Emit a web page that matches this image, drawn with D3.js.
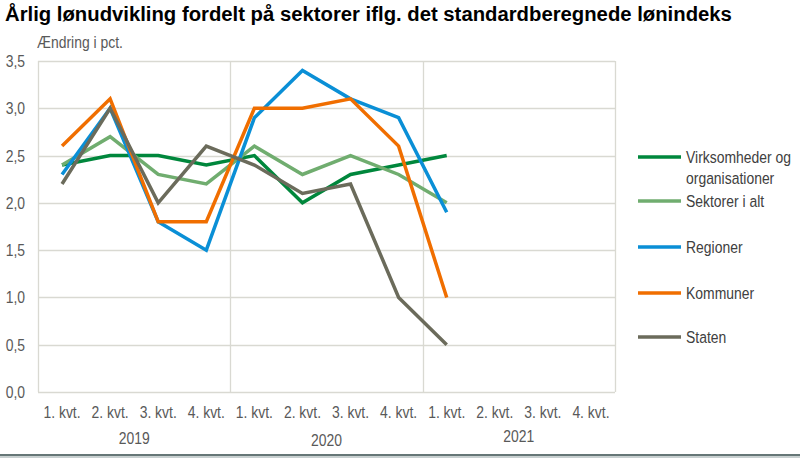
<!DOCTYPE html>
<html><head><meta charset="utf-8">
<script src="https://cdn.jsdelivr.net/npm/d3@7"></script>
<style>body{margin:0;background:#fff}svg{display:block}</style>
</head><body>
<script>
const quarters = ["1. kvt.","2. kvt.","3. kvt.","4. kvt.","1. kvt.","2. kvt.","3. kvt.","4. kvt.","1. kvt.","2. kvt.","3. kvt.","4. kvt."];
const years = ["2019","2020","2021"];
const yTicks = [0,0.5,1,1.5,2,2.5,3,3.5];
const virksomheder = [2.4,2.5,2.5,2.4,2.5,2.0,2.3,2.4,2.5];
const sektorer = [2.4,2.7,2.3,2.2,2.6,2.3,2.5,2.3,2.0];
const regioner = [2.3,3.0,1.8,1.5,2.9,3.4,3.1,2.9,1.9];
const kommuner = [2.6,3.1,1.8,1.8,3.0,3.0,3.1,2.6,1.0];
const staten = [2.2,3.0,2.0,2.6,2.4,2.1,2.2,1.0,0.5];
const seriesNames = [["Virksomheder og","organisationer"],["Sektorer i alt"],["Regioner"],["Kommuner"],["Staten"]];
const seriesData = [virksomheder,sektorer,regioner,kommuner,staten];
const colors = ["#00873c","#70ad6f","#0a8fd6","#f06e00","#6b6b5b"];

(function(){
const W=800,H=458;
const svg=d3.select("body").append("svg").attr("width",W).attr("height",H);
const font="'Liberation Sans',Arial,sans-serif";
const NARROW=0.82;
function ntext(parent,x,y,lines,opts){
  const g=parent.append("g").attr("transform",`translate(${x},${y}) scale(${NARROW},1)`);
  const t=g.append("text").attr("font-family",font).attr("font-size",opts.size||17)
    .attr("fill",opts.fill||"#595959").attr("text-anchor",opts.anchor||"start");
  [].concat(lines).forEach((s,j)=>t.append("tspan").attr("x",0).attr("y",j*(opts.lh||21)).text(s));
  return t;
}
const pL=38,pR=615,pT=61,pB=392;
const x=d3.scaleBand().domain(d3.range(12)).range([pL,pR]);
const y=d3.scaleLinear().domain([0,3.5]).range([pB,pT]);

svg.append("text").attr("x",5).attr("y",21).attr("font-family",font)
  .attr("font-weight","bold").attr("font-size",20.3).attr("fill","#000")
  .text("Årlig lønudvikling fordelt på sektorer iflg. det standardberegnede lønindeks");
ntext(svg,37,48,"Ændring i pct.",{});

const g=svg.append("g");
g.selectAll("line.h").data(yTicks).join("line").attr("x1",pL).attr("x2",pR)
  .attr("y1",d=>Math.round(y(d))+0.5).attr("y2",d=>Math.round(y(d))+0.5).attr("stroke","#d9d9d2").attr("stroke-width",1.3);
g.selectAll("line.v").data([0,4,8,12]).join("line")
  .attr("x1",d=>Math.round(pL+d*x.step())+0.5).attr("x2",d=>Math.round(pL+d*x.step())+0.5)
  .attr("y1",pT).attr("y2",pB).attr("stroke","#d9d9d2").attr("stroke-width",1.3);

yTicks.forEach(d=>ntext(g,25,y(d)+6,d3.format(".1f")(d).replace(".",","),{anchor:"end"}));
quarters.forEach((d,i)=>ntext(g,x(i)+x.bandwidth()/2,418,d,{anchor:"middle"}));
const yearY=[444,446,442];
years.forEach((d,i)=>ntext(g,pL+(i*4+2)*x.step(),yearY[i],d,{anchor:"middle"}));

const line=d3.line().x((d,i)=>x(i)+x.bandwidth()/2).y(d=>y(d));
seriesData.forEach((s,k)=>{
  g.append("path").datum(s).attr("d",line).attr("fill","none").attr("stroke",colors[k])
   .attr("stroke-width",3.5).attr("stroke-linejoin","miter").attr("stroke-miterlimit",3);
});

const legY=[157,201,247,293,337];
seriesNames.forEach((n,k)=>{
  svg.append("line").attr("x1",638).attr("x2",681).attr("y1",legY[k]).attr("y2",legY[k])
    .attr("stroke",colors[k]).attr("stroke-width",3.5);
  ntext(svg,686,legY[k]+6,n,{fill:"#404040",lh:21});
});

svg.append("rect").attr("x",0).attr("y",454).attr("width",W).attr("height",2).attr("fill","#667777");
svg.append("rect").attr("x",0).attr("y",456).attr("width",W).attr("height",2).attr("fill","#c8d0d0");
})();
</script>
</body></html>
